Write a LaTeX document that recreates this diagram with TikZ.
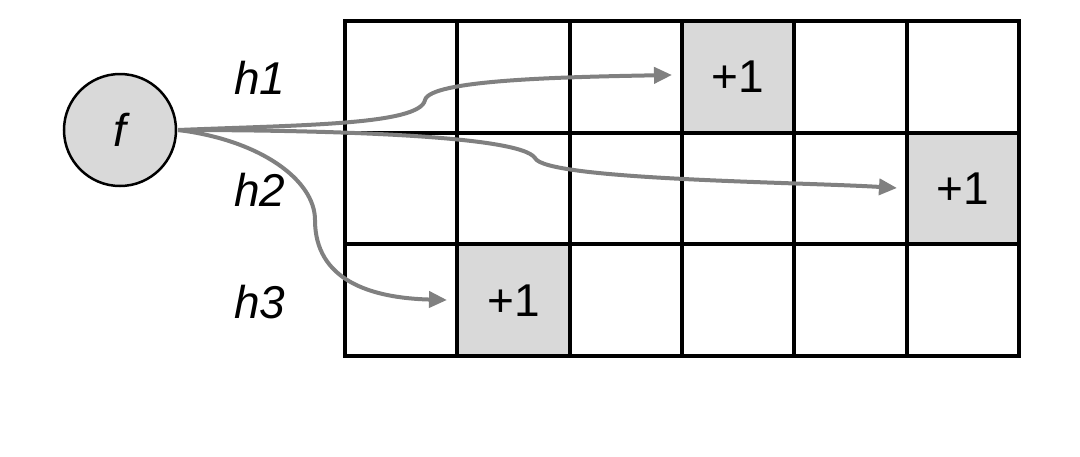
\documentclass[tikz,border=0pt]{standalone}
\usepackage{fontspec}
\setmainfont{Liberation Sans}
\usetikzlibrary{arrows.meta}
\begin{document}
\begin{tikzpicture}[x=1pt,y=-1pt,
  cellbox/.style={draw=black,line width=4pt,minimum width=112.3pt,minimum height=111.7pt,inner sep=0pt,anchor=north west},
  hit/.style={cellbox,fill=gray!30},
  lbl/.style={font=\fontsize{46}{50}\selectfont\itshape},
  conn/.style={draw=gray,line width=4pt,-{Triangle[length=18pt,width=16pt]}}]
\useasboundingbox (0,0) rectangle (1080,456);
\foreach \r in {0,1,2}{\foreach \c in {0,...,5}{
  \node[cellbox] (c\r\c) at ({343+112.3*\c},{19+111.7*\r}) {};}}
\node[hit,font=\fontsize{46}{50}\selectfont] (g1) at ({343+112.3*3},19) {+1};
\node[hit,font=\fontsize{46}{50}\selectfont] (g2) at ({343+112.3*5},{19+111.7}) {+1};
\node[hit,font=\fontsize{46}{50}\selectfont] (g3) at ({343+112.3*1},{19+111.7*2}) {+1};
\node[circle,draw=black,line width=2.5pt,fill=gray!30,minimum size=112pt,inner sep=0pt,lbl] (f) at (120,130) {f};
\node[lbl] (h1) at (260,78) {h1};
\node[lbl] (h2) at (260,190) {h2};
\node[lbl] (h3) at (260,302) {h3};
\coordinate (s) at (178,130);
\coordinate (e1) at (672,75);
\coordinate (e2) at (897,188);
\coordinate (e3) at (447,300);
\draw[conn] (s) .. controls (300,125) and (420,125) .. (425,100) .. controls (430,80) and (560,77) .. (e1);
\draw[conn] (s) .. controls (320,130) and (520,135) .. (535,158) .. controls (545,180) and (800,182) .. (e2);
\draw[conn] (s) .. controls (260,140) and (315,180) .. (315,220) .. controls (315,280) and (370,298) .. (e3);
\end{tikzpicture}
\end{document}
